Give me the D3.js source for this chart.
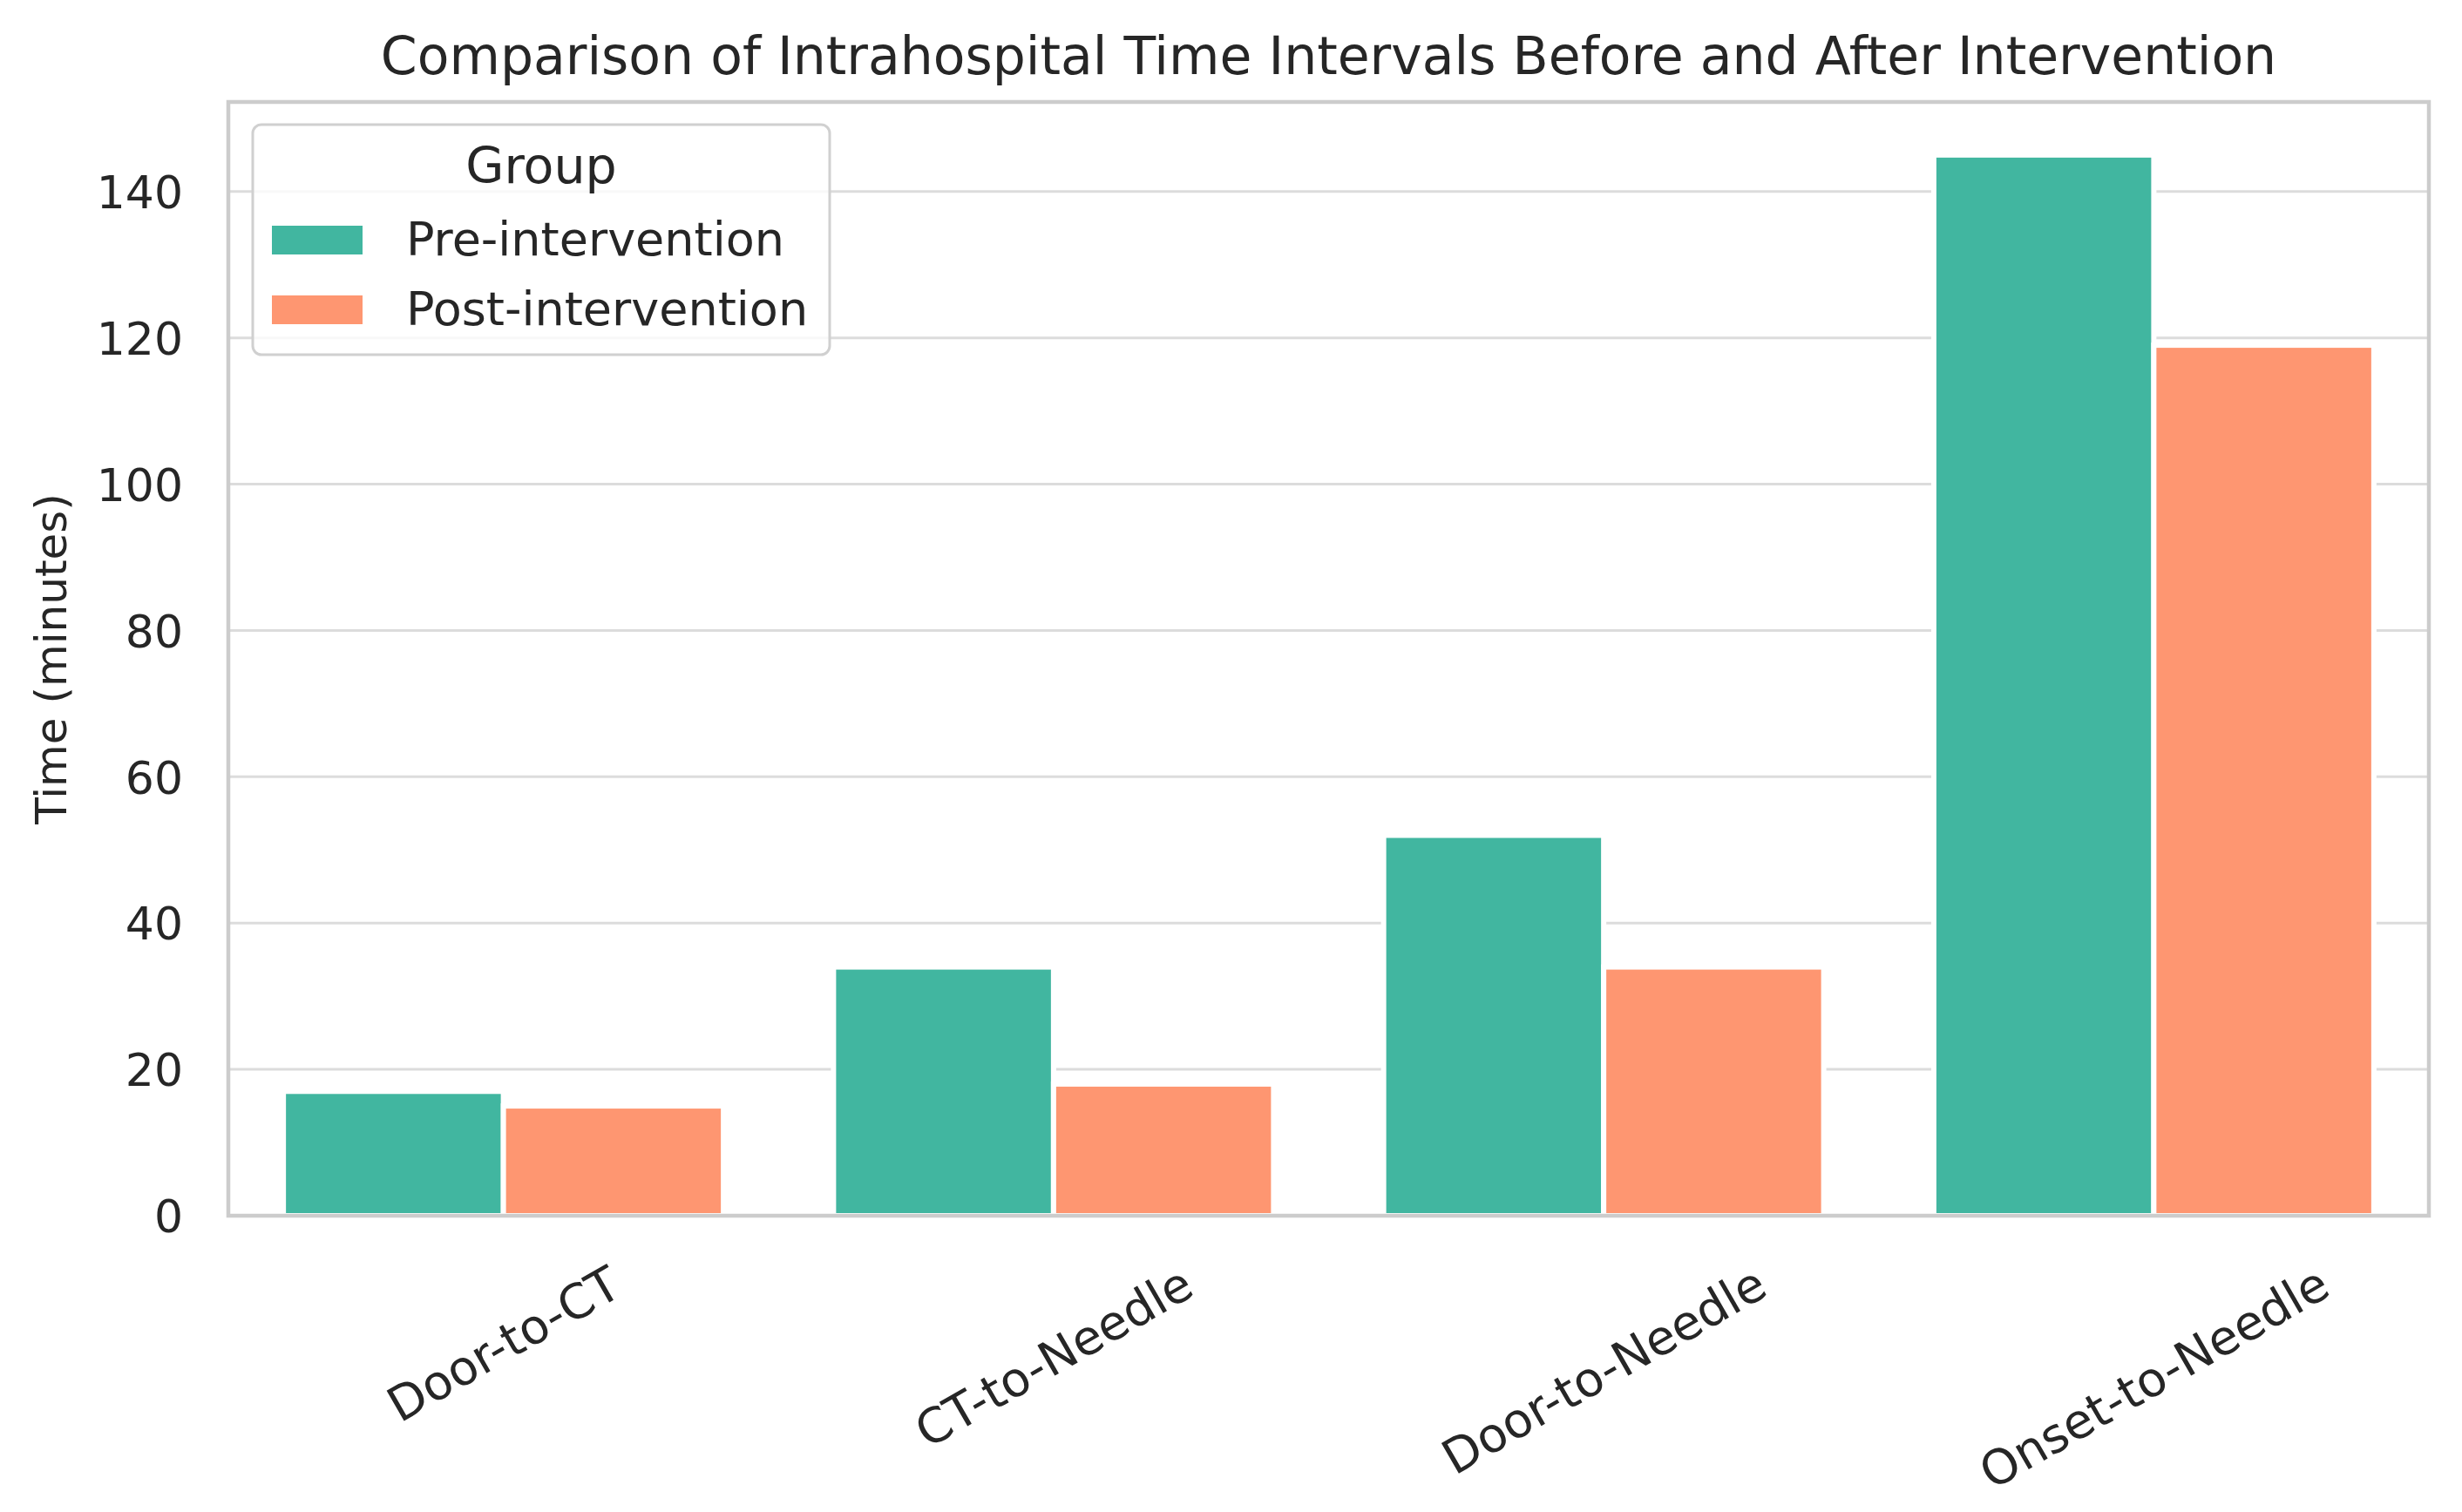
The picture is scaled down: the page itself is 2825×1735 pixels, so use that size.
<!DOCTYPE html>
<html>
<head>
<meta charset="utf-8">
<script src="https://cdn.jsdelivr.net/npm/d3@7"></script>
<style>
  body { margin: 0; background: #fff; }
  text { font-family: "DejaVu Sans", sans-serif; fill: #262626; }
</style>
</head>
<body>
<div id="chart"></div>
<script>
// chart data
var categories = ["Door-to-CT", "CT-to-Needle", "Door-to-Needle", "Onset-to-Needle"];
var seriesNames = ["Pre-intervention", "Post-intervention"];
var preValues = [17, 34, 52, 145];
var postValues = [15, 18, 34, 119];
var yTicks = [0, 20, 40, 60, 80, 100, 120, 140];
var colors = ["#41b6a0", "#fe9671"];

var width = 2825;
var height = 1735;
var plot = { left: 262, right: 2787, top: 117, bottom: 1395 };

var svg = d3.select("#chart")
  .append("svg")
  .attr("width", width)
  .attr("height", height);

var x = d3.scaleBand()
  .domain(categories)
  .range([plot.left, plot.right]);

// each category uses 80% of its band, split between the two groups
var xInner = d3.scaleBand()
  .domain(seriesNames)
  .range([x.bandwidth() * 0.1, x.bandwidth() * 0.9]);

var yMax = d3.max(preValues.concat(postValues)) * 1.05;
var y = d3.scaleLinear()
  .domain([0, yMax])
  .range([plot.bottom, plot.top]);

// grid lines
svg.append("g")
  .attr("class", "grid")
  .selectAll("line")
  .data(yTicks)
  .enter()
  .append("line")
  .attr("x1", plot.left)
  .attr("x2", plot.right)
  .attr("y1", function(d) { return y(d); })
  .attr("y2", function(d) { return y(d); })
  .attr("stroke", "#dcdcdc")
  .attr("stroke-width", 3);

// bars
var rows = categories.map(function(c, i) {
  return [
    { cat: c, group: seriesNames[0], value: preValues[i], color: colors[0] },
    { cat: c, group: seriesNames[1], value: postValues[i], color: colors[1] }
  ];
});

svg.append("g")
  .selectAll("g")
  .data(rows)
  .enter()
  .append("g")
  .attr("transform", function(d) { return "translate(" + x(d[0].cat) + ",0)"; })
  .selectAll("rect")
  .data(function(d) { return d; })
  .enter()
  .append("rect")
  .attr("x", function(d) { return xInner(d.group); })
  .attr("width", xInner.bandwidth())
  .attr("y", function(d) { return y(d.value); })
  .attr("height", function(d) { return y(0) - y(d.value); })
  .attr("fill", function(d) { return d.color; })
  .attr("stroke", "#ffffff")
  .attr("stroke-width", 6);

// frame
svg.append("rect")
  .attr("x", plot.left)
  .attr("y", plot.top)
  .attr("width", plot.right - plot.left)
  .attr("height", plot.bottom - plot.top)
  .attr("fill", "none")
  .attr("stroke", "#cccccc")
  .attr("stroke-width", 4.5);

// y tick labels
var yAxis = d3.axisLeft(y)
  .tickValues(yTicks)
  .tickSize(0)
  .tickPadding(52);
var yG = svg.append("g")
  .attr("transform", "translate(" + plot.left + ",0)")
  .call(yAxis);
yG.select(".domain").remove();
yG.selectAll("text")
  .attr("font-size", 52)
  .attr("font-family", "DejaVu Sans")
  .attr("fill", "#262626")
  .attr("dy", "0.36em");

// x tick labels, rotated 30 degrees, centred under each category
var xFont = 55;
var labelTop = 1450;
svg.append("g")
  .selectAll("text")
  .data(categories)
  .enter()
  .append("text")
  .attr("font-size", xFont)
  .attr("text-anchor", "middle")
  .attr("dy", "0.36em")
  .text(function(d) { return d; })
  .attr("transform", function(d) {
    var w = this.getComputedTextLength();
    var h = xFont * 0.74;
    var boxH = w * Math.sin(Math.PI / 6) + h * Math.cos(Math.PI / 6);
    var cx = x(d) + x.bandwidth() / 2;
    return "translate(" + cx + "," + (labelTop + boxH / 2) + ") rotate(-30)";
  });

// y axis title
svg.append("text")
  .attr("transform", "translate(58," + ((plot.top + plot.bottom) / 2) + ") rotate(-90)")
  .attr("text-anchor", "middle")
  .attr("dy", "0.36em")
  .attr("font-size", 50)
  .text("Time (minutes)");

// chart title
svg.append("text")
  .attr("x", (plot.left + plot.right) / 2)
  .attr("y", 85)
  .attr("text-anchor", "middle")
  .attr("font-size", 60)
  .text("Comparison of Intrahospital Time Intervals Before and After Intervention");

// legend
var legend = svg.append("g").attr("class", "legend");
legend.append("rect")
  .attr("x", 290)
  .attr("y", 143)
  .attr("width", 662)
  .attr("height", 264)
  .attr("rx", 10)
  .attr("fill", "#ffffff")
  .attr("fill-opacity", 0.8)
  .attr("stroke", "#d0d0d0")
  .attr("stroke-width", 3);
legend.append("text")
  .attr("x", 621)
  .attr("y", 210)
  .attr("text-anchor", "middle")
  .attr("font-size", 57)
  .text("Group");

var items = legend.selectAll("g.item")
  .data(seriesNames)
  .enter()
  .append("g")
  .attr("class", "item")
  .attr("transform", function(d, i) { return "translate(0," + (i * 80) + ")"; });
items.append("rect")
  .attr("x", 312)
  .attr("y", 259)
  .attr("width", 104)
  .attr("height", 33)
  .attr("fill", function(d, i) { return colors[i]; });
items.append("text")
  .attr("x", 466)
  .attr("y", 293)
  .attr("font-size", 54)
  .text(function(d) { return d; });
</script>
</body>
</html>
